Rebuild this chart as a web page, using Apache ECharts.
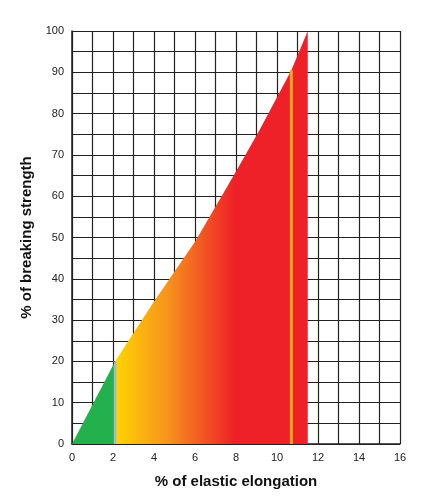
<!DOCTYPE html>
<html>
<head>
<meta charset="utf-8">
<script src="https://cdn.jsdelivr.net/npm/echarts@6/dist/echarts.min.js"></script>
<style>html,body{margin:0;padding:0;background:#fff}</style>
</head>
<body>
<div id="chart" style="width:442px;height:500px"></div>
<script>
// elastic zone (green)
const elasticZone = [[0, 0], [2.1, 20]];
// working zone to break (gradient)
const loadCurve = [[2.1, 20], [4, 34.5], [6, 49], [8, 66], [9.15, 76], [10.7, 90.5], [11.5, 100]];
// marker lines
const elasticLimit = [[2.1, 0], [2.1, 20]];
const workLimit = [[10.7, 0], [10.7, 90.5]];

const myChart = echarts.init(document.getElementById('chart'));
const font = 'Arial, "Liberation Sans", sans-serif';

myChart.setOption({
  animation: false,
  grid: { left: 72, right: 42, top: 31, bottom: 56 },
  xAxis: {
    type: 'value', min: 0, max: 16, interval: 1,
    name: '% of elastic elongation', nameLocation: 'middle', nameGap: 30,
    nameTextStyle: { fontFamily: font, fontSize: 15, fontWeight: 'bold', color: '#111' },
    axisLine: { lineStyle: { color: '#222', width: 1.5 } },
    axisTick: { show: false },
    axisLabel: { fontFamily: font, fontSize: 11, color: '#222', formatter: v => (v % 2 ? '' : v) },
    splitLine: { lineStyle: { color: '#222', width: 1.2 } }
  },
  yAxis: {
    type: 'value', min: 0, max: 100, interval: 5,
    name: '% of breaking strength', nameLocation: 'middle', nameGap: 38,
    nameTextStyle: { fontFamily: font, fontSize: 15, fontWeight: 'bold', color: '#111' },
    axisLine: { show: true, lineStyle: { color: '#222', width: 1.5 } },
    axisTick: { show: false },
    axisLabel: { fontFamily: font, fontSize: 11, color: '#222', formatter: v => (v % 10 ? '' : v) },
    splitLine: { lineStyle: { color: '#222', width: 1.2 } }
  },
  series: [
    {
      type: 'line', data: elasticZone, symbol: 'none', z: 3,
      lineStyle: { width: 0 }, areaStyle: { color: '#22b14c', opacity: 1 }
    },
    {
      type: 'line', data: loadCurve, symbol: 'none', z: 3,
      lineStyle: { width: 0 },
      areaStyle: {
        opacity: 1,
        color: new echarts.graphic.LinearGradient(0, 0, 1, 0, [
          { offset: 0, color: '#ffd400' },
          { offset: 0.27, color: '#f7941d' },
          { offset: 0.62, color: '#ed2127' },
          { offset: 1, color: '#ed2127' }
        ])
      }
    },
    {
      type: 'line', data: elasticLimit, symbol: 'none', z: 4,
      lineStyle: { color: '#a9b8c6', width: 2.5 }
    },
    {
      type: 'line', data: workLimit, symbol: 'none', z: 4,
      lineStyle: { color: '#f9a51b', width: 3 }
    }
  ]
});
</script>
</body>
</html>
